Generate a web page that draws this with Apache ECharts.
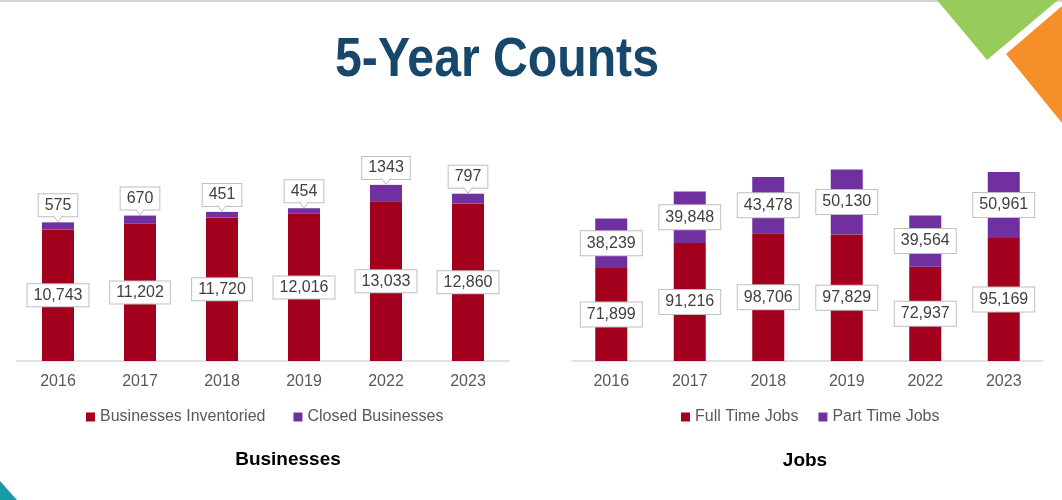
<!DOCTYPE html>
<html>
<head>
<meta charset="utf-8">
<script src="https://cdn.jsdelivr.net/npm/echarts@6/dist/echarts.min.js"></script>
<style>
html,body{margin:0;padding:0;background:#fff;}
#c{width:1062px;height:500px;}
</style>
</head>
<body>
<div id="c"></div>
<script>
const years = ['2016', '2017', '2018', '2019', '2022', '2023'];
const businessesInventoried = [10743, 11202, 11720, 12016, 13033, 12860];
const closedBusinesses = [575, 670, 451, 454, 1343, 797];
const fullTimeJobs = [71899, 91216, 98706, 97829, 72937, 95169];
const partTimeJobs = [38239, 39848, 43478, 50130, 39564, 50961];

const RED = '#a3001e';
const PURPLE = '#7030a0';
const fmt = v => Number(v).toLocaleString('en-US');
const FONT = 'Liberation Sans, Arial, sans-serif';

const boxLabel = (pad) => ({
  show: true,
  color: '#404040',
  fontSize: 16,
  fontFamily: FONT,
  lineHeight: 18,
  backgroundColor: '#ffffff',
  borderColor: '#bfbfbf',
  borderWidth: 1,
  padding: pad
});

const totals = businessesInventoried.map((v, i) => [i, v + closedBusinesses[i]]);

const chart = echarts.init(document.getElementById('c'));
chart.setOption({
  backgroundColor: '#ffffff',
  animation: false,
  textStyle: { fontFamily: FONT },
  graphic: [
    { type: 'rect', shape: { x: 0, y: 0, width: 1062, height: 2 }, style: { fill: '#d4d4d4' }, silent: true },
    { type: 'polygon', shape: { points: [[937, 0], [1058, 0], [987, 60]] }, style: { fill: '#98cc5a' }, silent: true },
    { type: 'polygon', shape: { points: [[1006, 54], [1062, 6], [1062, 123]] }, style: { fill: '#f68f2a' }, silent: true },
    { type: 'polygon', shape: { points: [[0, 481], [0, 500], [17, 500]] }, style: { fill: '#1b9aa6' }, silent: true },
    { type: 'text', x: 497, y: 61, scaleX: 0.86, style: { text: '5-Year Counts', fill: '#17476a', font: 'bold 56px ' + FONT, textAlign: 'center', textVerticalAlign: 'middle' } },
    { type: 'text', x: 288, y: 460, style: { text: 'Businesses', fill: '#000000', font: 'bold 19px ' + FONT, textAlign: 'center', textVerticalAlign: 'middle' } },
    { type: 'text', x: 805, y: 461, style: { text: 'Jobs', fill: '#000000', font: 'bold 19px ' + FONT, textAlign: 'center', textVerticalAlign: 'middle' } }
  ],
  legend: [
    {
      left: 81, top: 404, itemWidth: 9, itemHeight: 9, itemGap: 28, icon: 'rect',
      textStyle: { color: '#595959', fontSize: 16, fontFamily: FONT },
      data: ['Businesses Inventoried', 'Closed Businesses']
    },
    {
      left: 676, top: 404, itemWidth: 9, itemHeight: 9, itemGap: 20, icon: 'rect',
      textStyle: { color: '#595959', fontSize: 16, fontFamily: FONT },
      data: ['Full Time Jobs', 'Part Time Jobs']
    }
  ],
  grid: [
    { left: 17, width: 492, top: 165, height: 196 },
    { left: 572, width: 471, top: 154, height: 207 }
  ],
  xAxis: [0, 1].map(g => ({
    type: 'category', gridIndex: g, data: years,
    axisLine: { show: true, lineStyle: { color: '#d9d9d9', width: 1.5 } },
    axisTick: { show: false },
    axisLabel: { color: '#595959', fontSize: 16, fontFamily: FONT, margin: 13 }
  })),
  yAxis: [
    { type: 'value', gridIndex: 0, min: 0, max: 16000, show: false, splitLine: { show: false } },
    { type: 'value', gridIndex: 1, min: 0, max: 160000, show: false, splitLine: { show: false } }
  ],
  series: [
    {
      name: 'Businesses Inventoried', type: 'bar', stack: 'b', xAxisIndex: 0, yAxisIndex: 0,
      barWidth: 32, itemStyle: { color: RED }, data: businessesInventoried,
      label: Object.assign(boxLabel([2, 6]), { position: 'inside', formatter: p => fmt(p.value) })
    },
    {
      name: 'Closed Businesses', type: 'bar', stack: 'b', xAxisIndex: 0, yAxisIndex: 0,
      barWidth: 32, itemStyle: { color: PURPLE }, data: closedBusinesses,
      label: Object.assign(boxLabel([2, 6]), { position: 'top', distance: 6, formatter: p => String(p.value) })
    },
    {
      type: 'custom', xAxisIndex: 0, yAxisIndex: 0, z: 20, silent: true,
      encode: { x: 0, y: 1 }, data: totals,
      renderItem: (params, api) => {
        const p = api.coord([api.value(0), api.value(1)]);
        const x = p[0], y = p[1];
        return {
          type: 'group',
          children: [
            { type: 'polygon', shape: { points: [[x - 4.5, y - 7.2], [x + 4.5, y - 7.2], [x, y - 0.5]] }, style: { fill: '#ffffff' } },
            { type: 'polyline', shape: { points: [[x - 4.5, y - 6.5], [x, y - 0.5], [x + 4.5, y - 6.5]] }, style: { stroke: '#bfbfbf', lineWidth: 1, fill: null } }
          ]
        };
      }
    },
    {
      name: 'Full Time Jobs', type: 'bar', stack: 'j', xAxisIndex: 1, yAxisIndex: 1,
      barWidth: 32, itemStyle: { color: RED }, data: fullTimeJobs,
      label: Object.assign(boxLabel([3, 6]), { position: 'inside', formatter: p => fmt(p.value) })
    },
    {
      name: 'Part Time Jobs', type: 'bar', stack: 'j', xAxisIndex: 1, yAxisIndex: 1,
      barWidth: 32, itemStyle: { color: PURPLE }, data: partTimeJobs,
      label: Object.assign(boxLabel([3, 6]), { position: 'inside', formatter: p => fmt(p.value) })
    }
  ]
});
</script>
</body>
</html>
